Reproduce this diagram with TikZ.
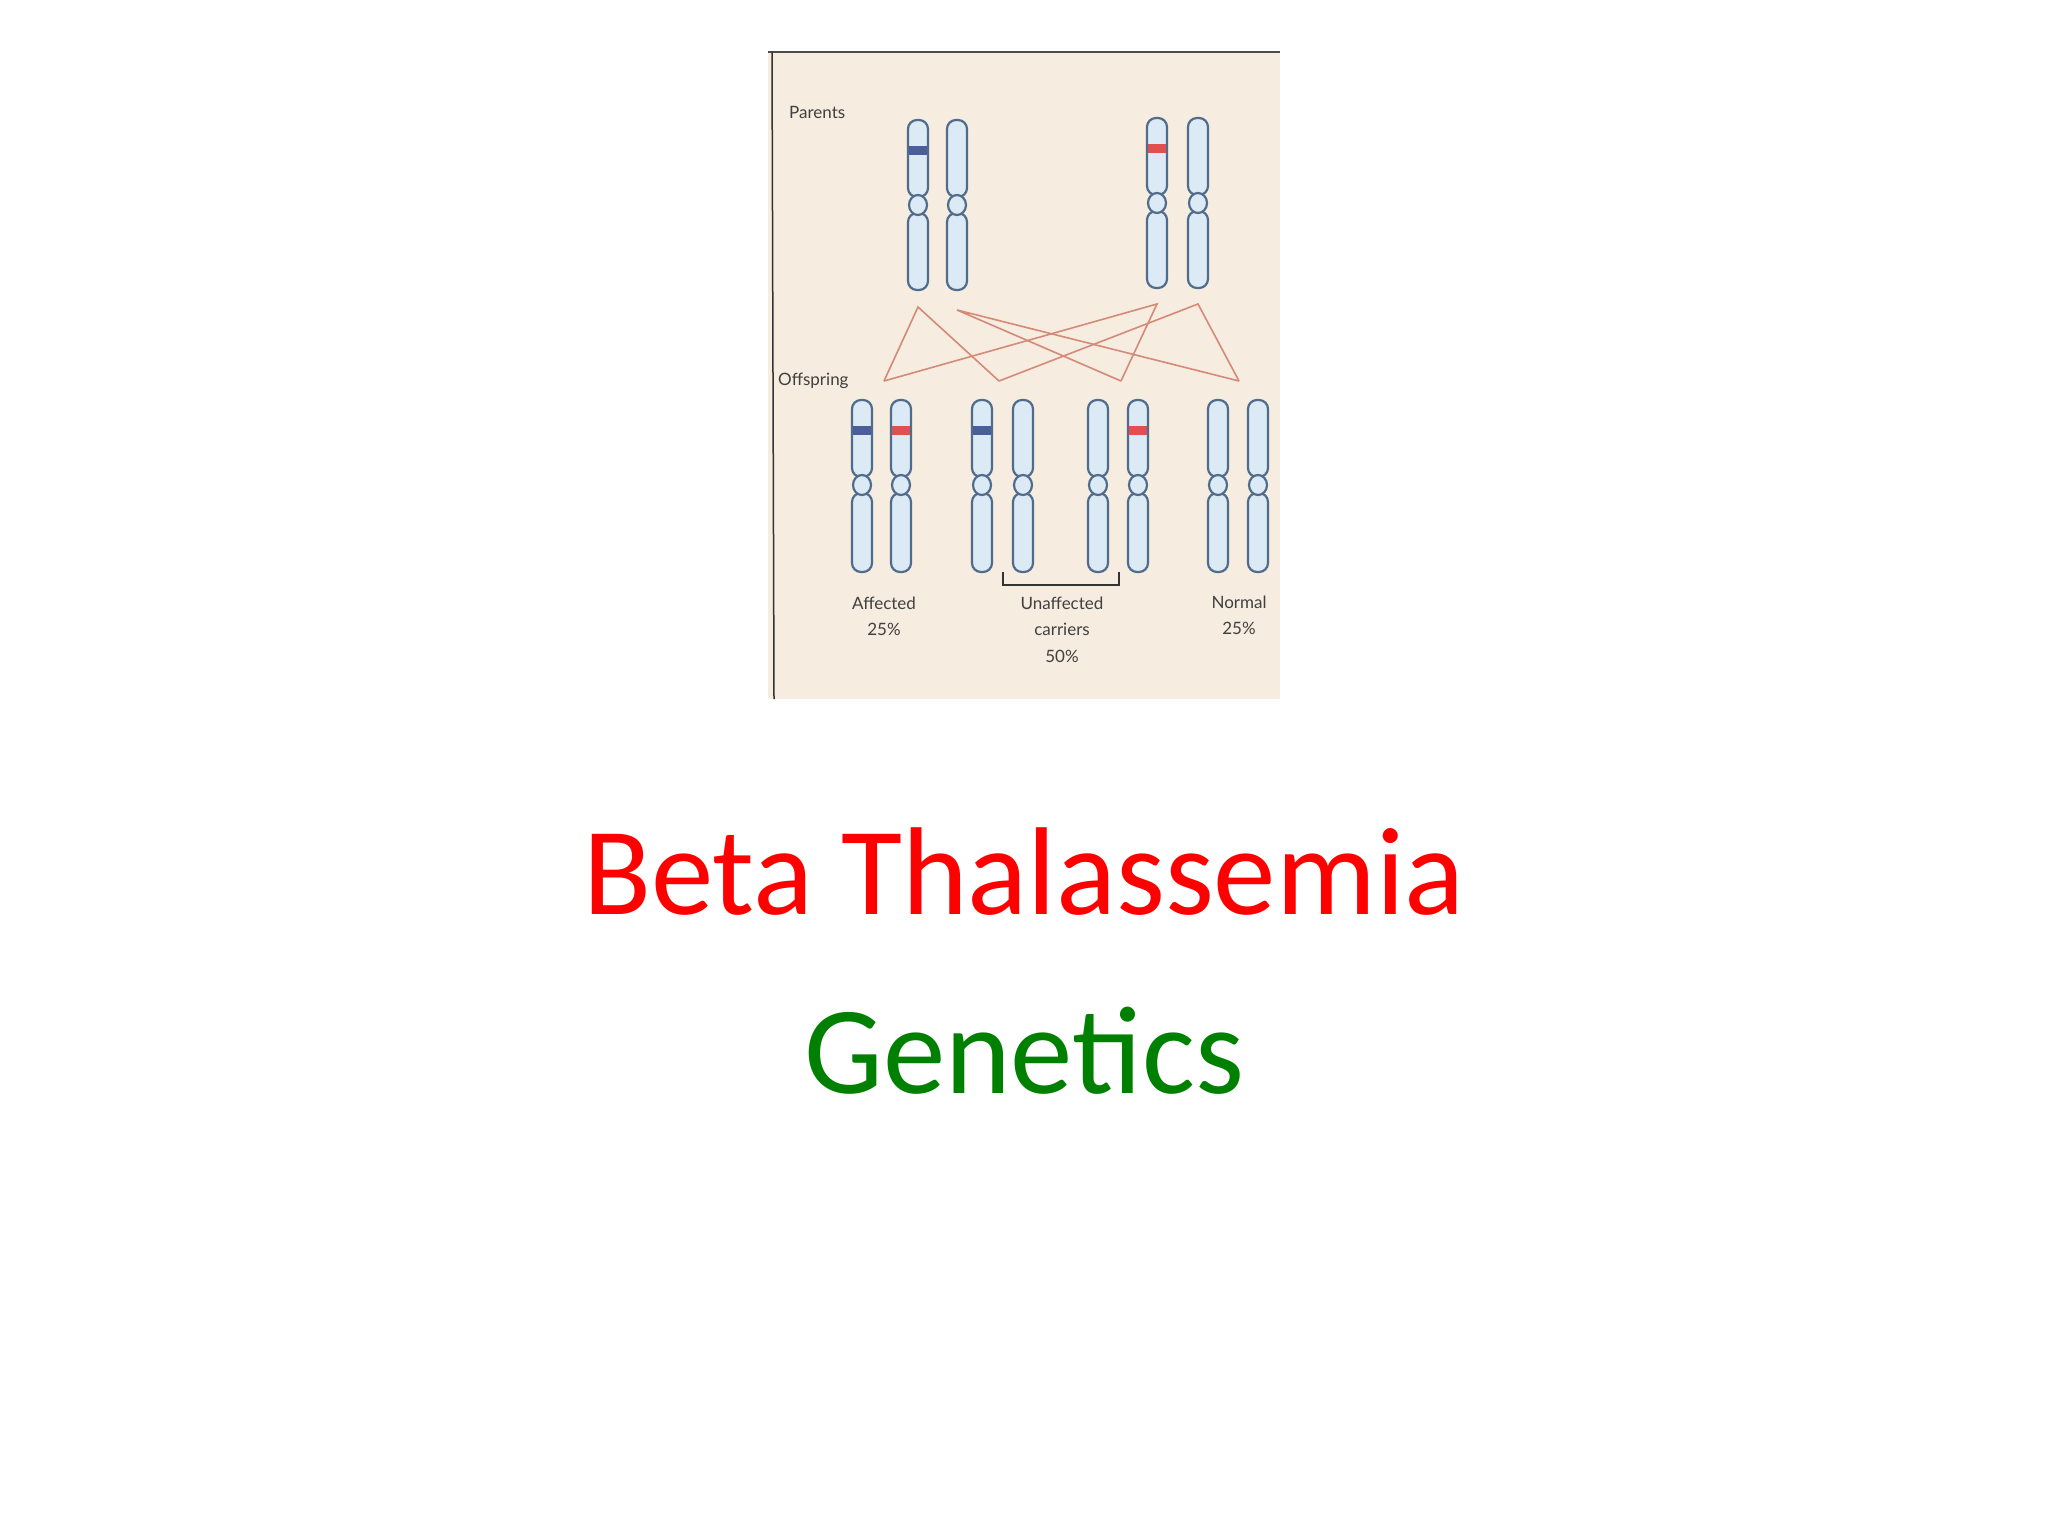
\documentclass[tikz,border=0pt]{standalone}
\usepackage{fontspec}
\setmainfont{Carlito}
\newfontfamily\lblfont{Lato}
\definecolor{paper}{HTML}{F6ECDF}
\definecolor{chfill}{HTML}{DCEAF5}
\definecolor{chline}{HTML}{4F6C8C}
\definecolor{bandblue}{HTML}{4A5E9C}
\definecolor{bandred}{HTML}{E0504F}
\definecolor{cross}{HTML}{D48A78}
\definecolor{tgreen}{RGB}{0,128,0}
\newcommand\chromo[5]{% x, top, centro, bottom, band color
  \begin{scope}[shift={(#1,0)}]
    \draw[chline,fill=chfill,line width=2.2,rounded corners=9] (-10,#2) rectangle (10,#3-8);
    \draw[chline,fill=chfill,line width=2.2,rounded corners=9] (-10,#3+8) rectangle (10,#4);
    \draw[chline,fill=chfill,line width=2.2] (0,#3) ellipse (9 and 10);
    \ifx\relax#5\relax\else
      \fill[#5] (-9,#2+26) rectangle (9,#2+35);
    \fi
  \end{scope}}
\tikzset{lbl/.style={font=\lblfont\fontsize{17}{20}\selectfont,text=black!75,inner sep=0},
  crossline/.style={cross,line width=1.6}}
\begin{document}
\begin{tikzpicture}[x=1pt,y=-1pt]
\useasboundingbox (0,0) rectangle (2048,1536);
\fill[white] (0,0) rectangle (2048,1536);
\fill[paper] (768,52) rectangle (1280,699);
\draw[black!70,line width=1.5] (768,52) -- (1280,52);
\draw[black!80,line width=1.5] (772,52) -- (774,699);
% parents
\chromo{918}{120}{205}{290}{bandblue}
\chromo{957}{120}{205}{290}{}
\chromo{1157}{118}{203}{288}{bandred}
\chromo{1198}{118}{203}{288}{}
% offspring
\chromo{862}{400}{485}{572}{bandblue}
\chromo{901}{400}{485}{572}{bandred}
\chromo{982}{400}{485}{572}{bandblue}
\chromo{1023}{400}{485}{572}{}
\chromo{1098}{400}{485}{572}{}
\chromo{1138}{400}{485}{572}{bandred}
\chromo{1218}{400}{485}{572}{}
\chromo{1258}{400}{485}{572}{}
% cross lines
\coordinate (p1) at (918,307);
\coordinate (p2) at (957,310);
\coordinate (p3) at (1157,304);
\coordinate (p4) at (1198,304);
\coordinate (o1) at (884,381);
\coordinate (o2) at (999,381);
\coordinate (o3) at (1121,381);
\coordinate (o4) at (1239,381);
\draw[crossline] (o1) -- (p1) -- (o2);
\draw[crossline] (o3) -- (p2) -- (o4);
\draw[crossline] (o1) -- (p3) -- (o3);
\draw[crossline] (o2) -- (p4) -- (o4);
% bracket
\coordinate (b1) at (1003,572);
\coordinate (b2) at (1119,572);
\draw[black!80,line width=1.5] (b1) -- ++(0,13) -| (b2);
% labels
\node[lbl,anchor=west] (par) at (789,112) {Parents};
\node[lbl,anchor=west] (off) at (778,381) {Offspring};
\node[lbl] (aff) at (884,603) {Affected};
\node[lbl] (aff2) at (884,629) {25\%};
\node[lbl] (un) at (1062,603) {Unaffected};
\node[lbl] (un2) at (1062,629) {carriers};
\node[lbl] (un3) at (1062,656) {50\%};
\node[lbl] (nor) at (1239,602) {Normal};
\node[lbl] (nor2) at (1239,628) {25\%};
% titles
\node[text=red,font=\fontsize{125}{150}\selectfont,inner sep=0] (t1) at (1024,872) {Beta Thalassemia};
\node[text=tgreen,font=\fontsize{125}{150}\selectfont,inner sep=0] (t2) at (1024,1051) {Genetics};
\end{tikzpicture}
\end{document}
